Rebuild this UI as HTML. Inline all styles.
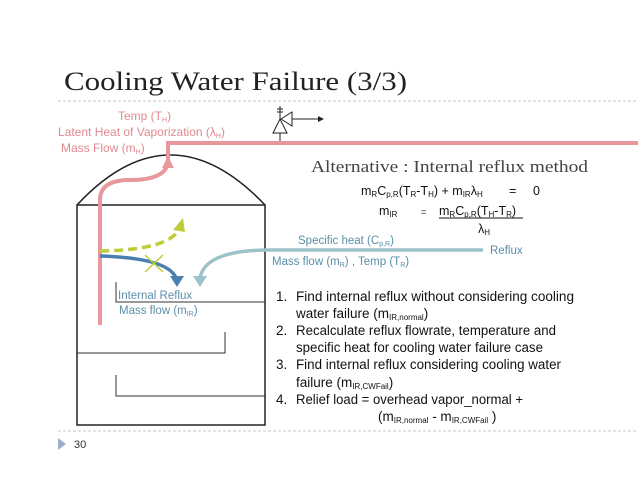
<!DOCTYPE html>
<html><head><style>
body{margin:0;width:638px;height:493px;background:#fff;overflow:hidden}
svg{display:block}
.s{font-family:"Liberation Sans",sans-serif}
</style></head><body>
<svg width="638" height="493" viewBox="0 0 638 493" xmlns="http://www.w3.org/2000/svg">
<text x="64" y="90" font-family="Liberation Serif,serif" font-size="26" fill="#222" textLength="343" lengthAdjust="spacingAndGlyphs">Cooling Water Failure (3/3)</text>
<line x1="58" y1="101" x2="638" y2="101" stroke="#b8c8d8" stroke-dasharray="3,2"/>
<line x1="58" y1="431" x2="638" y2="431" stroke="#b8c8d8" stroke-dasharray="3,2"/>
<path d="M58,438L66,444L58,450z" fill="#9ab0c8"/>
<text x="74" y="448" class="s" font-size="11" fill="#333">30</text>

<!-- vessel -->
<path d="M77,205 Q170,105 265,205" fill="none" stroke="#222" stroke-width="1.5"/>
<rect x="77" y="205" width="188" height="220" fill="none" stroke="#222" stroke-width="1.5"/>
<path d="M116,282V302H265" fill="none" stroke="#333" stroke-width="1"/>
<path d="M225,332V353H77" fill="none" stroke="#333" stroke-width="1"/>
<path d="M116,375V396H265" fill="none" stroke="#333" stroke-width="1"/>

<!-- pink vapor -->
<path d="M100,325V200Q100,180 130,180Q166,180 168,162" fill="none" stroke="#e8989c" stroke-width="4"/>
<path d="M162,168L168,156L174,168z" fill="#e8989c"/>
<path d="M168,162V143H638" fill="none" stroke="#e8989c" stroke-width="4"/>
<!-- valve -->
<line x1="280" y1="141" x2="280" y2="120" stroke="#222"/>
<path d="M273,133L280,119L287,133z" fill="#fff" stroke="#222"/>
<path d="M281,119L292,112L292,126z" fill="#fff" stroke="#222"/>
<line x1="292" y1="119" x2="318" y2="119" stroke="#222"/>
<path d="M318,116L324,119L318,122z" fill="#222"/>
<line x1="280" y1="119" x2="280" y2="106" stroke="#222"/>
<line x1="277" y1="109" x2="283" y2="109" stroke="#222"/>
<line x1="277" y1="112" x2="283" y2="112" stroke="#222"/>

<!-- green dashed -->
<path d="M100,251Q170,250 180,228" fill="none" stroke="#bfcc3a" stroke-width="3.5" stroke-dasharray="9,5"/>
<path d="M173,230L183,218L185,232z" fill="#bfcc3a"/>
<!-- blue -->
<path d="M100,256Q168,258 176,278" fill="none" stroke="#4a7fb0" stroke-width="3.5"/>
<path d="M170,276L177,287L184,276z" fill="#4a7fb0"/>
<path d="M145,255L163,272M163,255L145,272" stroke="#bfcc3a" stroke-width="1.5"/>
<!-- light blue reflux -->
<path d="M483,250H270Q205,250 200,278" fill="none" stroke="#9cc2cc" stroke-width="3.5"/>
<path d="M193,276L200,287L207,276z" fill="#9cc2cc"/>

<g class="s" font-size="12">
<text x="118" y="120" fill="#e08a8f">Temp (T<tspan font-size="7" dy="2">H</tspan><tspan dy="-2">)</tspan></text>
<text x="58" y="136" fill="#e08a8f">Latent Heat of Vaporization (λ<tspan font-size="7" dy="2">H</tspan><tspan dy="-2">)</tspan></text>
<text x="61" y="152" fill="#e08a8f">Mass Flow (m<tspan font-size="7" dy="2">H</tspan><tspan dy="-2">)</tspan></text>
<text x="118" y="299" fill="#5a8fa8" font-size="11.5">Internal Reflux</text>
<text x="119" y="314" fill="#5a8fa8" font-size="11.5">Mass flow (m<tspan font-size="7" dy="2">IR</tspan><tspan dy="-2">)</tspan></text>
<text x="298" y="244" fill="#5a8fa8" font-size="11.5">Specific heat (C<tspan font-size="7" dy="2">p,R</tspan><tspan dy="-2">)</tspan></text>
<text x="272" y="265" fill="#5a8fa8" font-size="11.5">Mass flow (m<tspan font-size="7" dy="2">R</tspan><tspan dy="-2">)   ,   Temp (T</tspan><tspan font-size="7" dy="2">R</tspan><tspan dy="-2">)</tspan></text>
<text x="490" y="254" fill="#5a8fa8" font-size="11.5">Reflux</text>
</g>
<text x="311" y="172" font-family="Liberation Serif,serif" font-size="17" fill="#444" textLength="277" lengthAdjust="spacingAndGlyphs">Alternative : Internal reflux method</text>
<g class="s" font-size="12.5" fill="#111">
<text x="361" y="195">m<tspan font-size="8" dy="2">R</tspan><tspan dy="-2">C</tspan><tspan font-size="8" dy="2">p,R</tspan><tspan dy="-2">(T</tspan><tspan font-size="8" dy="2">R</tspan><tspan dy="-2">-T</tspan><tspan font-size="8" dy="2">H</tspan><tspan dy="-2">) + m</tspan><tspan font-size="8" dy="2">IR</tspan><tspan dy="-2">λ</tspan><tspan font-size="8" dy="2">H</tspan></text>
<text x="509" y="195">=</text>
<text x="533" y="195">0</text>
<text x="379" y="215">m<tspan font-size="8" dy="2">IR</tspan></text>
<text x="421" y="215" font-size="9">=</text>
<text x="439" y="215">m<tspan font-size="8" dy="2">R</tspan><tspan dy="-2">C</tspan><tspan font-size="8" dy="2">p,R</tspan><tspan dy="-2">(T</tspan><tspan font-size="8" dy="2">H</tspan><tspan dy="-2">-T</tspan><tspan font-size="8" dy="2">R</tspan><tspan dy="-2">)</tspan></text>
<text x="478" y="233">λ<tspan font-size="8" dy="2">H</tspan></text>
</g>
<line x1="439" y1="218" x2="523" y2="218" stroke="#111"/>
<g class="s" font-size="13.5" fill="#111">
<text x="276" y="301">1.</text><text x="296" y="301" textLength="278" lengthAdjust="spacingAndGlyphs">Find internal reflux without considering cooling</text>
<text x="296" y="318">water failure (m<tspan font-size="8" dy="2">IR,normal</tspan><tspan dy="-2">)</tspan></text>
<text x="276" y="335">2.</text><text x="296" y="335" textLength="260" lengthAdjust="spacingAndGlyphs">Recalculate reflux flowrate, temperature and</text>
<text x="296" y="352" textLength="247" lengthAdjust="spacingAndGlyphs">specific heat for cooling water failure case</text>
<text x="276" y="369">3.</text><text x="296" y="369" textLength="265" lengthAdjust="spacingAndGlyphs">Find internal reflux considering cooling water</text>
<text x="296" y="387">failure (m<tspan font-size="8" dy="2">IR,CWFail</tspan><tspan dy="-2">)</tspan></text>
<text x="276" y="404">4.</text><text x="296" y="404" textLength="227" lengthAdjust="spacingAndGlyphs">Relief load = overhead vapor_normal +</text>
<text x="378" y="421">(m<tspan font-size="8" dy="2">IR,normal</tspan><tspan dy="-2"> - m</tspan><tspan font-size="8" dy="2">IR,CWFail</tspan><tspan dy="-2"> )</tspan></text>
</g>
</svg>
</body></html>
